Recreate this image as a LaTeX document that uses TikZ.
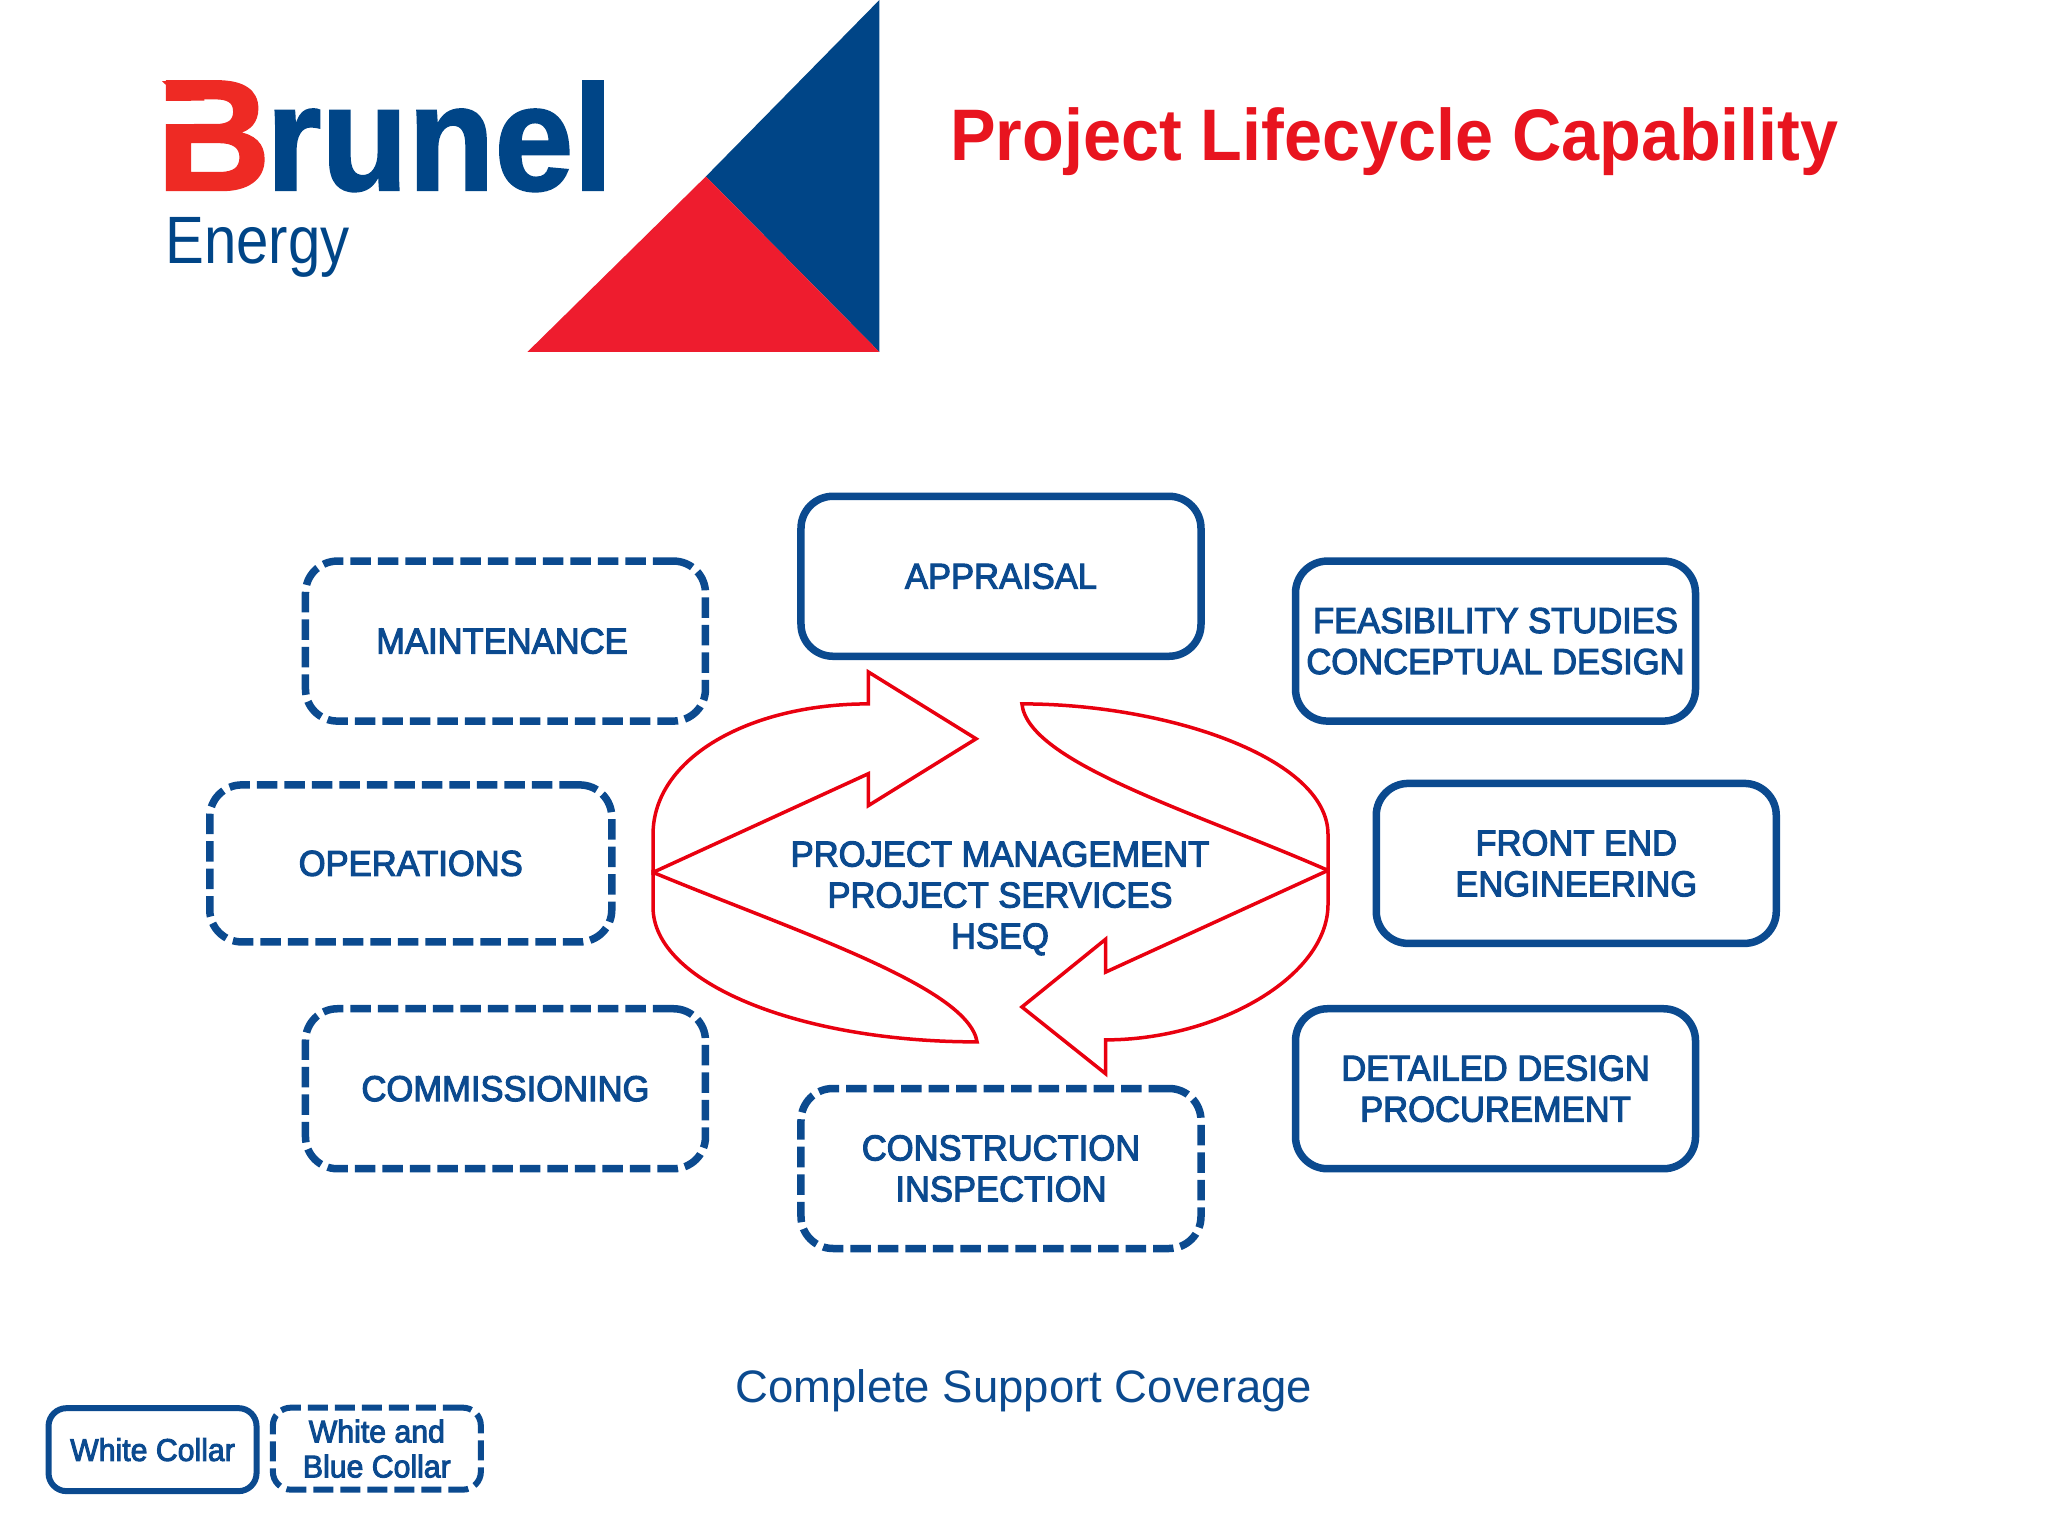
\documentclass[tikz,border=0pt]{standalone}
\usepackage{fontspec}
\usepackage{graphicx}
\setmainfont{Liberation Sans}
\newfontfamily\medf[FakeBold=3,FakeStretch=0.96]{Liberation Sans}
\newfontfamily\logof[FakeBold=1.5]{Liberation Sans Bold}
\definecolor{bblue}{HTML}{0B4A8F}
\definecolor{tblue}{HTML}{004587}
\definecolor{tred}{HTML}{EE1C2E}
\definecolor{titlered}{HTML}{E8141F}
\definecolor{cred}{HTML}{E9000F}
\definecolor{bred}{HTML}{EE2A24}
\tikzset{
  stagebox/.style={draw=bblue,line width=7.5pt,rounded corners=32pt,inner sep=0pt,align=center,text=bblue,
    minimum width=400pt,minimum height=160pt,font=\medf\fontsize{36}{41}\selectfont},
  stagedash/.style={stagebox,dash pattern=on 20.5pt off 7pt},
  legbox/.style={draw=bblue,line width=6pt,rounded corners=18pt,inner sep=0pt,align=center,text=bblue,
    minimum width=205pt,minimum height=82pt,font=\medf\fontsize{31.5}{35}\selectfont},
  legdash/.style={legbox,dash pattern=on 20pt off 7pt},
  cycle/.style={draw=cred,line width=3.5pt,line join=miter,fill=none},
  plain/.style={inner sep=0pt,outer sep=0pt}
}
\begin{document}
\begin{tikzpicture}[x=0.997pt,y=-0.997pt]
\useasboundingbox (0,0) rectangle (2054.16,1540.62);
% logo triangle
\fill[tblue] (882,0) -- (882,353) -- (708,177) -- cycle;
\fill[tred] (708,177) -- (882,353) -- (529,353) -- cycle;
% logo text
\node[plain,anchor=base west,text=bred,font=\logof\fontsize{158}{158}\selectfont] (logob) at (157,190.6) {B};
\fill[bred] (162.5,81.3) -- (205,81.3) -- (205,101) -- (182.5,101) -- cycle;
\fill[white] (155,101) rectangle (195,124);
\node[plain,anchor=base west,text=tblue,font=\logof\fontsize{150}{150}\selectfont] (logor) at (267,190.6) {\scalebox{.945}[1]{runel}};
\node[plain,anchor=base west,text=tblue,font=\fontsize{67}{67}\selectfont] (logoe) at (166,264) {\scalebox{.868}[1]{Energy}};
% title
\node[plain,anchor=base west,text=titlered,font=\bfseries\fontsize{73}{73}\selectfont] (title) at (953,161) {\scalebox{.936}[1]{Project Lifecycle Capability}};
% boxes
\node[stagebox] (appraisal) at (1004,578) {APPRAISAL};
\node[stagebox] (feas) at (1500,643) {FEASIBILITY STUDIES\\CONCEPTUAL DESIGN};
\node[stagebox] (front) at (1581,866) {FRONT END\\ENGINEERING};
\node[stagebox] (detail) at (1500,1092) {DETAILED DESIGN\\PROCUREMENT};
\node[stagedash] (constr) at (1004,1172) {CONSTRUCTION\\INSPECTION};
\node[stagedash] (comm) at (507,1092) {COMMISSIONING};
\node[stagedash,minimum width=402pt,minimum height=157pt] (oper) at (412,866) {OPERATIONS};
\node[stagedash] (maint) at (507,643) {MAINTENANCE\hspace*{7pt}};
% cycle shapes
\draw[cycle] (655,875) -- (655,837) .. controls (655,760) and (752,706) .. (871,706)
  -- (871,674) -- (979,741) -- (871,808) -- (871,776) -- cycle;
\draw[cycle] (1025,706) .. controls (1170,706) and (1332,760) .. (1332,837) -- (1332,873)
  .. controls (1200,815) and (1031,765) .. (1025,706) -- cycle;
\draw[cycle] (1332,873) -- (1332,907) .. controls (1332,980) and (1220,1043) .. (1109,1043)
  -- (1109,1077) -- (1025,1010) -- (1109,942) -- (1109,975) -- cycle;
\draw[cycle] (655,875) -- (655,910) .. controls (655,985) and (800,1045) .. (980,1045)
  .. controls (971,990) and (800,935) .. (655,875) -- cycle;
% centre text
\node[plain,align=center,text=bblue,font=\medf\fontsize{36}{41}\selectfont] (pm) at (1003,901) {PROJECT MANAGEMENT\\PROJECT SERVICES\\HSEQ};
\node[plain,anchor=base,text=bblue,font=\fontsize{45.5}{47}\selectfont] (cover) at (1027,1407) {Complete Support Coverage};
% legend
\node[legbox,minimum width=208pt,minimum height=83pt] (lwhite) at (153,1454) {White Collar};
\node[legdash,minimum width=208pt] (lboth) at (378,1453) {White and\\Blue Collar};
\end{tikzpicture}
\end{document}
